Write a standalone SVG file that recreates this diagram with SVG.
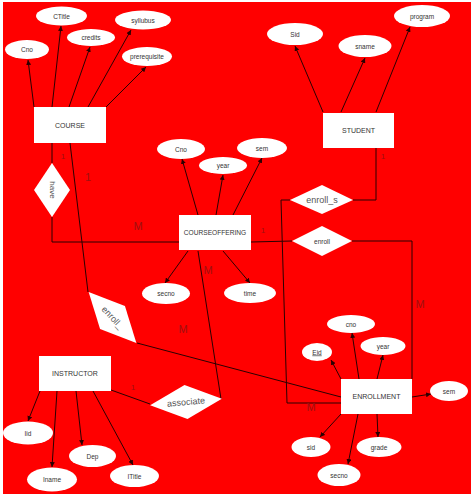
<svg xmlns="http://www.w3.org/2000/svg" width="474" height="494" viewBox="0 0 474 494">
<style>
.ent{fill:#fff}
.att{fill:#fff}
.rel{fill:#fff}
.t{font-family:"Liberation Sans",Arial,sans-serif;fill:#333;text-anchor:middle;dominant-baseline:central}
.te{font-size:7px}
.ta{font-size:6.5px}
.tr{font-size:9px;fill:#555}
.ln{stroke:#2a0000;stroke-width:1;fill:none}
.la{stroke:#2a0000;stroke-width:1;fill:none;marker-end:url(#arr)}
.card{font-family:"Liberation Sans",Arial,sans-serif;fill:#a01010;font-size:11px;text-anchor:middle;dominant-baseline:central}
.card1{font-family:"Liberation Sans",Arial,sans-serif;fill:#a01010;font-size:8px;text-anchor:middle;dominant-baseline:central}
</style>
<defs>
<marker id="arr" viewBox="0 0 10 10" refX="10" refY="5" markerWidth="5" markerHeight="5" orient="auto"><path d="M0,0 L10,5 L0,10 z" fill="#2a0000"/></marker>
</defs>
<rect x="0" y="0" width="474" height="494" fill="#fff"/>
<rect x="3" y="2" width="468" height="492" fill="#ff0000"/>

<g id="connectors">
<!-- COURSE attributes -->
<line class="la" x1="34" y1="107" x2="28" y2="60"/>
<line class="la" x1="52" y1="107" x2="61" y2="26"/>
<line class="la" x1="69" y1="107" x2="90" y2="47"/>
<line class="la" x1="88" y1="107" x2="131" y2="30"/>
<line class="la" x1="106" y1="107" x2="146" y2="67"/>
<!-- STUDENT attributes -->
<line class="la" x1="323" y1="112" x2="295" y2="46"/>
<line class="la" x1="341" y1="112" x2="365" y2="58"/>
<line class="la" x1="376" y1="112" x2="410" y2="27"/>
<!-- COURSEOFFERING attributes -->
<line class="la" x1="198" y1="215" x2="182" y2="159"/>
<line class="la" x1="216" y1="215" x2="223" y2="175"/>
<line class="la" x1="233" y1="215" x2="262" y2="158"/>
<line class="la" x1="188" y1="251" x2="165" y2="283"/>
<line class="la" x1="223" y1="251" x2="250" y2="283"/>
<!-- ENROLLMENT attributes -->
<line class="la" x1="359" y1="379" x2="352" y2="333"/>
<line class="la" x1="341" y1="379" x2="331" y2="360"/>
<line class="la" x1="377" y1="379" x2="383" y2="355"/>
<line class="la" x1="412" y1="397" x2="431" y2="394"/>
<line class="la" x1="341" y1="414" x2="320" y2="437"/>
<line class="la" x1="377" y1="414" x2="378" y2="437"/>
<line class="la" x1="358" y1="414" x2="348" y2="464"/>
<!-- INSTRUCTOR attributes -->
<line class="la" x1="40" y1="391" x2="28" y2="421"/>
<line class="la" x1="57" y1="391" x2="52" y2="467"/>
<line class="la" x1="76" y1="391" x2="82" y2="445"/>
<line class="la" x1="93" y1="391" x2="133" y2="465"/>
<!-- relationships -->
<polyline class="ln" points="52,143 52,163"/>
<polyline class="ln" points="52,217 52,242 179,242"/>
<line class="ln" x1="70" y1="143" x2="88" y2="292"/>
<line class="ln" x1="137" y1="343" x2="341" y2="397"/>
<line class="ln" x1="111" y1="390" x2="150" y2="404"/>
<line class="ln" x1="221" y1="399" x2="198" y2="251"/>
<polyline class="ln" points="376,148 376,200 353,200"/>
<polyline class="ln" points="290,200 281,200 287,403 341,403"/>
<line class="ln" x1="251" y1="242" x2="292" y2="241"/>
<polyline class="ln" points="352,241 412,241 412,379"/>
<!-- cardinalities -->
<text class="card1" x="63" y="156">1</text>
<text class="card" x="88" y="177">1</text>
<text class="card" x="138" y="226">M</text>
<text class="card" x="208" y="270">M</text>
<text class="card" x="183" y="329">M</text>
<text class="card1" x="133" y="387">1</text>
<text class="card1" x="263" y="230">1</text>
<text class="card1" x="383" y="156">1</text>
<text class="card" x="420" y="304">M</text>
<text class="card" x="311" y="407">M</text>
</g>

<g id="course"><rect class="ent" x="34" y="107" width="72" height="36"/><text class="t te" x="70" y="125">COURSE</text></g>
<g id="course-cno"><ellipse class="att" cx="27" cy="49.5" rx="22" ry="9.5"/><text class="t ta" x="27" y="49.5">Cno</text></g>
<g id="course-ctitle"><ellipse class="att" cx="61.5" cy="16" rx="25.5" ry="9.5"/><text class="t ta" x="61.5" y="16">CTitle</text></g>
<g id="course-credits"><ellipse class="att" cx="91" cy="37.5" rx="24" ry="8.5"/><text class="t ta" x="91" y="37.5">credits</text></g>
<g id="course-syllubus"><ellipse class="att" cx="143" cy="20" rx="28" ry="9.5"/><text class="t ta" x="143" y="20">syllubus</text></g>
<g id="course-prereq"><ellipse class="att" cx="147" cy="56.5" rx="25" ry="9.5"/><text class="t ta" x="147" y="56.5">prerequisite</text></g>

<g id="student"><rect class="ent" x="323" y="113" width="71" height="35"/><text class="t te" x="358.5" y="130.5">STUDENT</text></g>
<g id="student-sid"><ellipse class="att" cx="295" cy="34" rx="28" ry="11"/><text class="t ta" x="295" y="34">Sid</text></g>
<g id="student-sname"><ellipse class="att" cx="365" cy="46" rx="26.5" ry="11"/><text class="t ta" x="365" y="46">sname</text></g>
<g id="student-program"><ellipse class="att" cx="422" cy="16" rx="28" ry="11"/><text class="t ta" x="422" y="16">program</text></g>

<g id="courseoffering"><rect class="ent" x="179" y="215" width="72" height="35"/><text class="t" style="font-size:6.6px" x="215" y="232.5">COURSEOFFERING</text></g>
<g id="co-cno"><ellipse class="att" cx="181" cy="149" rx="24" ry="10"/><text class="t ta" x="181" y="149">Cno</text></g>
<g id="co-year"><ellipse class="att" cx="223" cy="165.5" rx="24" ry="8.5"/><text class="t ta" x="223" y="165.5">year</text></g>
<g id="co-sem"><ellipse class="att" cx="262" cy="148" rx="25" ry="10"/><text class="t ta" x="262" y="148">sem</text></g>
<g id="co-secno"><ellipse class="att" cx="166" cy="293.5" rx="24" ry="10.5"/><text class="t ta" x="166" y="293.5">secno</text></g>
<g id="co-time"><ellipse class="att" cx="250" cy="293" rx="26" ry="10"/><text class="t ta" x="250" y="293">time</text></g>

<g id="enrollment"><rect class="ent" x="341" y="379" width="71" height="35"/><text class="t te" x="376.5" y="396.5">ENROLLMENT</text></g>
<g id="en-cno"><ellipse class="att" cx="351" cy="324" rx="24" ry="9"/><text class="t ta" x="351" y="324">cno</text></g>
<g id="en-eid"><ellipse class="att" cx="317" cy="352" rx="15" ry="9"/><text class="t ta" x="317" y="352" text-decoration="underline">Eid</text></g>
<g id="en-year"><ellipse class="att" cx="383" cy="346" rx="22.5" ry="9"/><text class="t ta" x="383" y="346">year</text></g>
<g id="en-sem"><ellipse class="att" cx="449" cy="391" rx="19" ry="10"/><text class="t ta" x="449" y="391">sem</text></g>
<g id="en-sid"><ellipse class="att" cx="311" cy="447" rx="19.5" ry="10"/><text class="t ta" x="311" y="447">sid</text></g>
<g id="en-grade"><ellipse class="att" cx="379" cy="447" rx="22.5" ry="10"/><text class="t ta" x="379" y="447">grade</text></g>
<g id="en-secno"><ellipse class="att" cx="339" cy="475" rx="21.5" ry="11"/><text class="t ta" x="339" y="475">secno</text></g>

<g id="instructor"><rect class="ent" x="39" y="356" width="72" height="35"/><text class="t te" x="75" y="373.5">INSTRUCTOR</text></g>
<g id="in-iid"><ellipse class="att" cx="28" cy="433" rx="25" ry="11.5"/><text class="t ta" x="28" y="433">Iid</text></g>
<g id="in-dep"><ellipse class="att" cx="92.5" cy="456" rx="23.5" ry="11"/><text class="t ta" x="92.5" y="456">Dep</text></g>
<g id="in-iname"><ellipse class="att" cx="52" cy="479.5" rx="25" ry="12"/><text class="t ta" x="52" y="479.5">Iname</text></g>
<g id="in-ititle"><ellipse class="att" cx="134.5" cy="476" rx="24.5" ry="11"/><text class="t ta" x="134.5" y="476">ITitle</text></g>

<g id="have"><polygon class="rel" points="52,163 70,190 52,217 34,190"/><text class="t tr" style="font-size:8px" x="52" y="190" transform="rotate(90 52 190)">have</text></g>
<g id="enroll_" transform="translate(112.5 317.5) rotate(47)"><polygon class="rel" points="-35,0 0,-17 35,0 0,17"/><text class="t tr" x="0" y="0">enroll_</text></g>
<g id="associate" transform="translate(186 402) rotate(-5)"><polygon class="rel" points="-36,0 0,-17 36,0 0,17"/><text class="t tr" x="0" y="0">associate</text></g>
<g id="enroll_s"><polygon class="rel" points="290,200 322,185 353,200 322,214"/><text class="t tr" x="322" y="200">enroll_s</text></g>
<g id="enroll"><polygon class="rel" points="292,241 322,226 352,241 322,256"/><text class="t" style="font-size:6.5px" x="322" y="241">enroll</text></g>
</svg>
